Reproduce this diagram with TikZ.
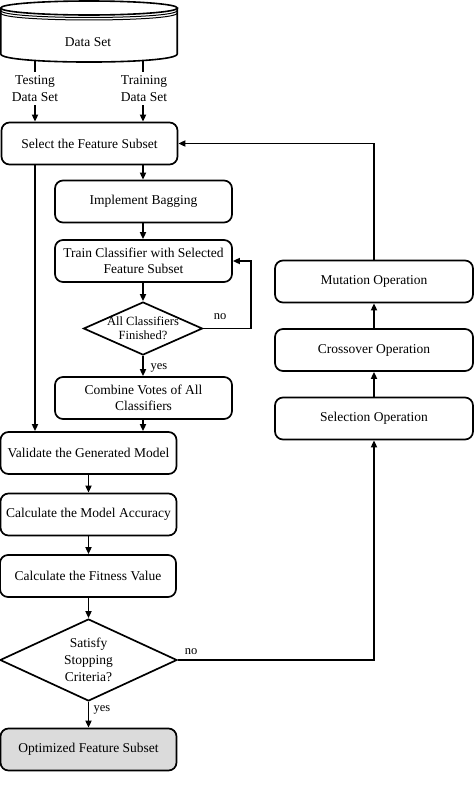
\documentclass[tikz,border=0pt]{standalone}
\usepackage{fontspec}
\setmainfont{Liberation Serif}
\usetikzlibrary{shapes.geometric,arrows.meta}

\begin{document}
\begin{tikzpicture}[x=1pt,y=-1pt,  % one unit is one pixel of the reference
    box/.style={draw,line width=1.7pt,rounded corners=8pt,minimum height=42pt,
        align=center,font=\fontsize{13.5}{16.5}\selectfont},
    mainbox/.style={box,minimum width=176pt},
    innerbox/.style={box,minimum width=177pt},
    gabox/.style={box,minimum width=198pt},
    decision/.style={draw,line width=1.7pt,diamond,inner sep=0pt},
    conn/.style={line width=1.6pt},
    arr/.style={conn,-{Triangle[length=7pt,width=6pt]}},
    txt/.style={align=center,font=\fontsize{13.5}{17}\selectfont},
    lbl/.style={font=\fontsize{12.5}{15}\selectfont}]
    \useasboundingbox (0,0) rectangle (474,801);

    % Draw the data set cylinder
    \draw[conn] (0.8,8) -- (0.8,54) .. controls (0.8,64.7) and (177.2,64.7) .. (177.2,54) -- (177.2,8);
    \draw[conn] (89,8) ellipse [x radius=88.4pt, y radius=7pt];
    \foreach \d in {2.5,5} {
        \draw[line width=1pt] (0.8,8+\d) .. controls (0.8,17.3+\d) and (177.2,17.3+\d) .. (177.2,8+\d);
    }
    \node[txt] (data) at (88,42) {Data Set};
    \coordinate (testtop) at (35,60);
    \coordinate (traintop) at (143,60);

    % Main column
    \node[mainbox] (select) at (89.5,143.5) {Select the Feature Subset};
    \node[mainbox] (validate) at (88.5,453) {Validate the Generated Model};
    \node[mainbox] (accuracy) at (88.5,514.5) {Calculate the Model Accuracy};
    \node[mainbox] (fitness) at (88,576) {Calculate the Fitness Value};
    \node[decision,minimum width=177pt,minimum height=82pt,
        label={[txt]center:Satisfy\\Stopping\\Criteria?}] (stop) at (88.5,660) {};
    \node[mainbox,fill=black!14] (optimized) at (88.5,749.5) {Optimized Feature Subset};

    % Bagging column
    \node[innerbox] (bagging) at (143.5,201.5) {Implement Bagging};
    \node[innerbox] (train) at (143.5,261) {Train Classifier with Selected\\Feature Subset};
    \node[decision,minimum width=119pt,minimum height=53pt,
        label={[align=center,font=\fontsize{12.5}{14}\selectfont]center:All Classifiers\\Finished?}] (finished) at (143,328.5) {};
    \node[innerbox] (combine) at (143.5,398) {Combine Votes of All\\Classifiers};

    % Genetic operators
    \node[gabox] (mutation) at (374,281.5) {Mutation Operation};
    \node[gabox] (crossover) at (374,350) {Crossover Operation};
    \node[gabox] (selection) at (374,418.5) {Selection Operation};

    % Split of the data set
    \node[txt] (testlbl) at (35,88.5) {Testing\\Data Set};
    \node[txt] (trainlbl) at (144,88.5) {Training\\Data Set};
    \draw[conn] (testtop) -- (testlbl);
    \draw[conn] (traintop) -- (trainlbl.north -| traintop);
    \draw[arr] (testlbl) -- (select.north -| testlbl);
    \draw[arr] (trainlbl.south -| traintop) -- (select.north -| traintop);

    % Connectors
    \draw[arr] (select.south -| traintop) -- (bagging.north -| traintop);
    \draw[arr] (select.south -| testtop) -- (validate.north -| testtop);
    \draw[arr] (bagging.south -| traintop) -- (train.north -| traintop);
    \draw[arr] (train.south -| finished) -- (finished.north);
    \draw[arr] (finished.south) -- (combine.north -| finished);
    \draw[arr] (combine.south -| finished) -- (validate.north -| finished);
    \draw[arr] (finished.east) -- (251,328.5) |- (train.east);
    \foreach \a/\b in {validate/accuracy, accuracy/fitness, fitness/stop, stop/optimized} {
        \draw[arr] (\a.south -| stop) -- (\b.north -| stop);
    }
    \draw[arr] (stop.east) -| (selection.south);
    \draw[arr] (selection) -- (crossover);
    \draw[arr] (crossover) -- (mutation);
    \draw[arr] (mutation.north) |- (select.east);

    % Yes and no labels
    \node[lbl] (no1) at (220,317) {no};
    \node[lbl] (yes1) at (159,368) {yes};
    \node[lbl] (no2) at (191,652) {no};
    \node[lbl] (yes2) at (102,710) {yes};
\end{tikzpicture}
\end{document}
